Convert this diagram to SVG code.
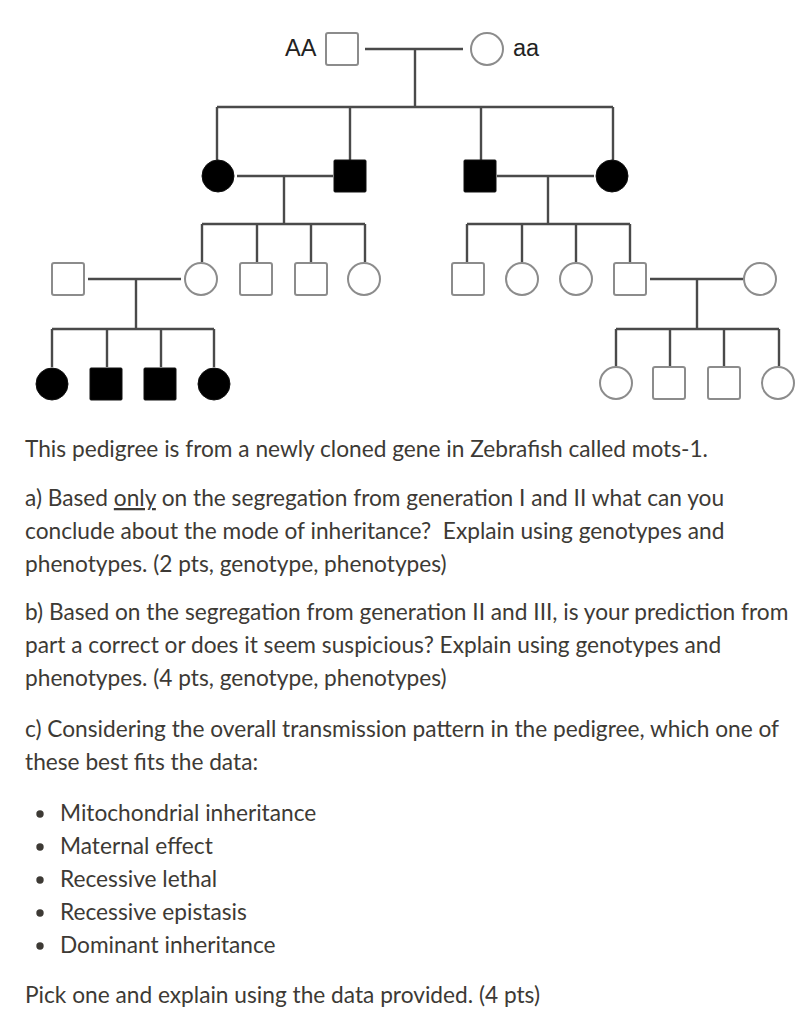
<svg xmlns="http://www.w3.org/2000/svg" width="810" height="1024" viewBox="0 0 810 1024">
<style>
.ln{stroke:#4a4a4a;stroke-width:2.4;fill:none}
.em{fill:#fff;stroke:#8c8c8c;stroke-width:2}
.af{fill:#000;stroke:#111;stroke-width:1}
.lb{font-family:"Liberation Sans",Arial,sans-serif;font-size:23.5px;fill:#222}
.tx{font-family:Lato,"Liberation Sans",sans-serif;font-size:22.7px;fill:#3d3a35}
</style>
<rect width="810" height="1024" fill="#fff"/>
<g id="connectors">
<path class="ln" d="M365 49H463M415 49V107M217 107H613M217 107V160M350 107V160M481 107V160M613 107V160"/>
<path class="ln" d="M237 176H333M497 176H594M284 176V224M548 176V224"/>
<path class="ln" d="M202 224H365M202 224V262M257 224V262M311 224V262M365 224V262"/>
<path class="ln" d="M467 224H630M467 224V262M522 224V262M576 224V262M630 224V262"/>
<path class="ln" d="M88 279H181M136 279V329M52 329H214M52 329V367M107 329V367M161 329V367M214 329V367"/>
<path class="ln" d="M650 279H743M697 279V329M616 329H779M616 329V366M670 329V366M724 329V366M779 329V366"/>
</g>
<g id="I-1"><rect class="em" x="326" y="33" width="32" height="32" rx="2"/><text class="lb" x="285" y="56">AA</text></g>
<g id="I-2"><circle class="em" cx="487" cy="49" r="16"/><text class="lb" x="513" y="56">aa</text></g>
<g id="II-1"><circle class="af" cx="218" cy="176" r="16"/></g>
<g id="II-2"><rect class="af" x="334" y="160" width="32" height="32" rx="1"/></g>
<g id="II-3"><rect class="af" x="464" y="160" width="32" height="32" rx="1"/></g>
<g id="II-4"><circle class="af" cx="612" cy="176" r="16"/></g>
<g id="III-1"><rect class="em" x="52" y="263" width="32" height="32" rx="2"/></g>
<g id="III-2"><circle class="em" cx="201" cy="279" r="16"/></g>
<g id="III-3"><rect class="em" x="240" y="263" width="32" height="32" rx="2"/></g>
<g id="III-4"><rect class="em" x="295" y="263" width="32" height="32" rx="2"/></g>
<g id="III-5"><circle class="em" cx="364" cy="279" r="16"/></g>
<g id="III-6"><rect class="em" x="452" y="263" width="32" height="32" rx="2"/></g>
<g id="III-7"><circle class="em" cx="522" cy="279" r="16"/></g>
<g id="III-8"><circle class="em" cx="576" cy="279" r="16"/></g>
<g id="III-9"><rect class="em" x="614" y="263" width="32" height="32" rx="2"/></g>
<g id="III-10"><circle class="em" cx="760" cy="279" r="16"/></g>
<g id="IV-1"><circle class="af" cx="52" cy="384" r="16"/></g>
<g id="IV-2"><rect class="af" x="90" y="368" width="32" height="32" rx="1"/></g>
<g id="IV-3"><rect class="af" x="144" y="368" width="32" height="32" rx="1"/></g>
<g id="IV-4"><circle class="af" cx="214" cy="384" r="16"/></g>
<g id="IV-5"><circle class="em" cx="616" cy="383" r="16"/></g>
<g id="IV-6"><rect class="em" x="653" y="367" width="32" height="32" rx="2"/></g>
<g id="IV-7"><rect class="em" x="708" y="367" width="32" height="32" rx="2"/></g>
<g id="IV-8"><circle class="em" cx="778" cy="383" r="16"/></g>
<g id="text">
<text class="tx" x="25" y="457">This pedigree is from a newly cloned gene in Zebrafish called mots-1.</text>
<text class="tx" x="25" y="506">a) Based <tspan text-decoration="underline">only</tspan> on the segregation from generation I and II what can you</text>
<text class="tx" x="25" y="539" xml:space="preserve">conclude about the mode of inheritance?  Explain using genotypes and</text>
<text class="tx" x="25" y="572">phenotypes. (2 pts, genotype, phenotypes)</text>
<text class="tx" x="25" y="620">b) Based on the segregation from generation II and III, is your prediction from</text>
<text class="tx" x="25" y="653">part a correct or does it seem suspicious? Explain using genotypes and</text>
<text class="tx" x="25" y="686">phenotypes. (4 pts, genotype, phenotypes)</text>
<text class="tx" x="25" y="737">c) Considering the overall transmission pattern in the pedigree, which one of</text>
<text class="tx" x="25" y="770">these best fits the data:</text>
<g fill="#3d3a35"><circle cx="40" cy="814" r="3.7"/><circle cx="40" cy="847" r="3.7"/><circle cx="40" cy="880" r="3.7"/><circle cx="40" cy="913" r="3.7"/><circle cx="40" cy="946" r="3.7"/></g>
<text class="tx" x="60" y="821">Mitochondrial inheritance</text>
<text class="tx" x="60" y="854">Maternal effect</text>
<text class="tx" x="60" y="887">Recessive lethal</text>
<text class="tx" x="60" y="920">Recessive epistasis</text>
<text class="tx" x="60" y="953">Dominant inheritance</text>
<text class="tx" x="25" y="1003">Pick one and explain using the data provided. (4 pts)</text>
</g>
</svg>
